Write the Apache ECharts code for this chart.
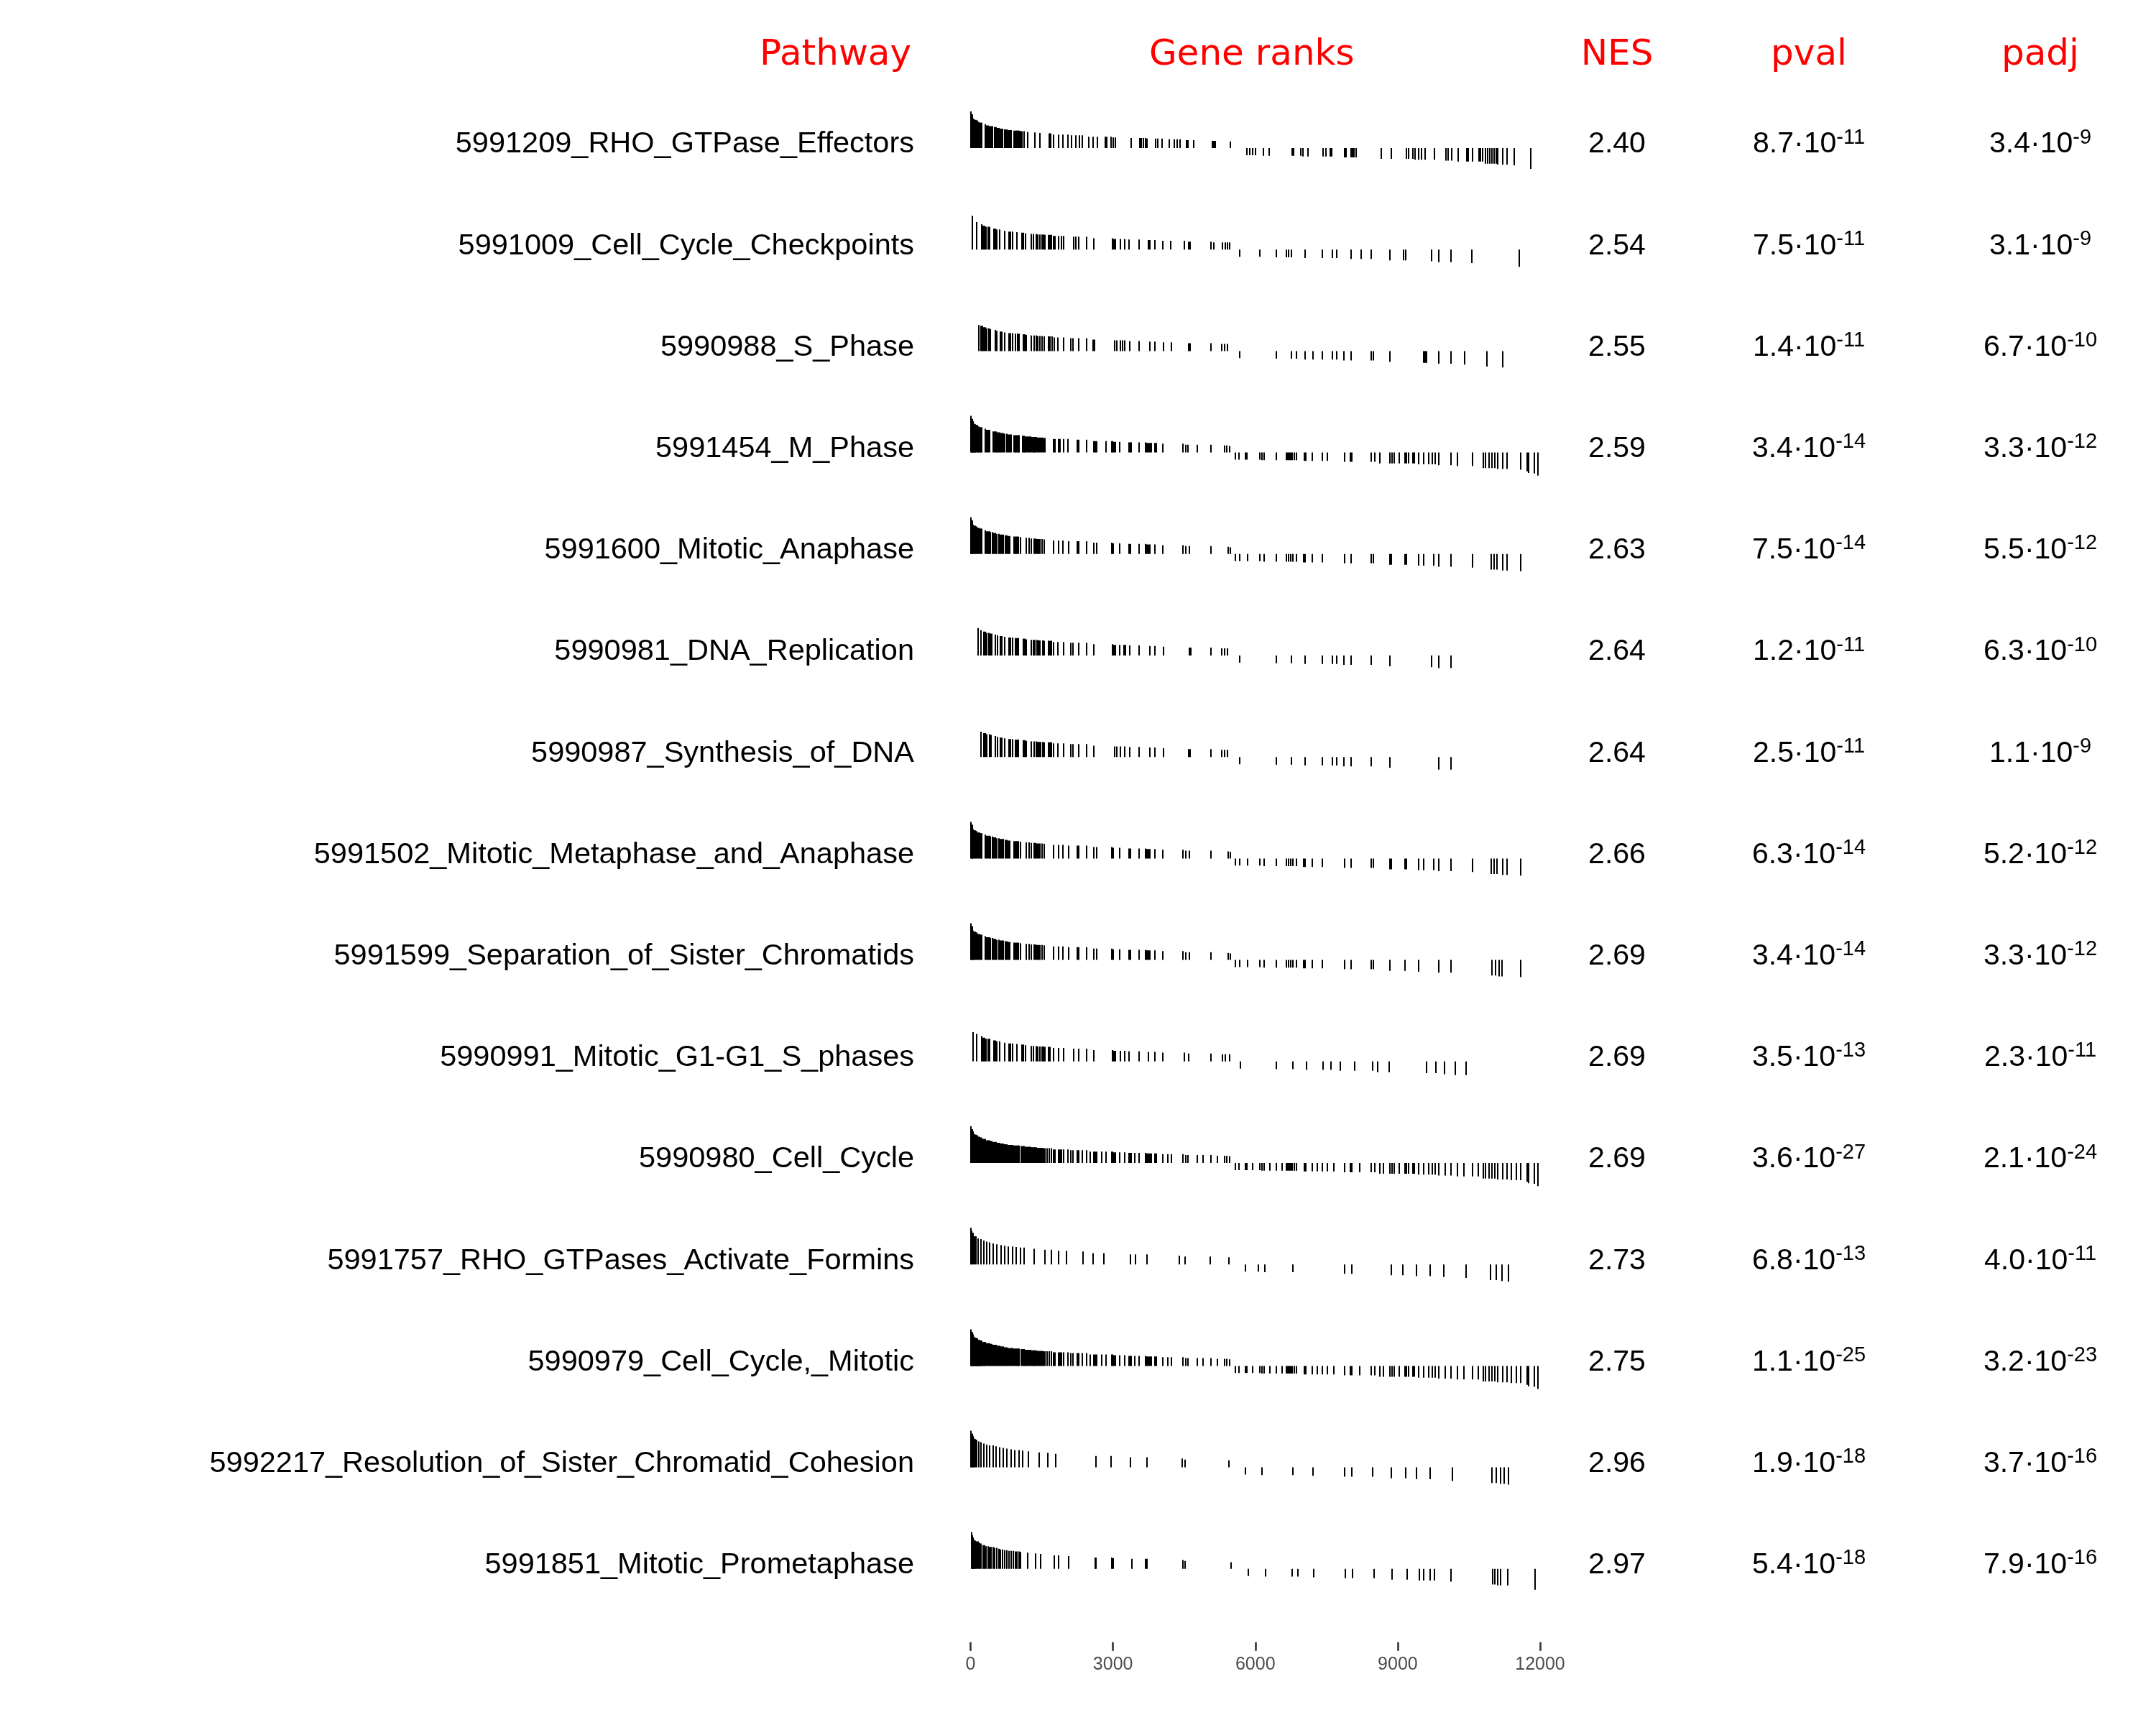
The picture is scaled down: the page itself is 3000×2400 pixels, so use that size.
<!DOCTYPE html>
<html><head><meta charset="utf-8">
<script src="https://cdn.jsdelivr.net/npm/echarts@6/dist/echarts.min.js"></script>
<style>html,body{margin:0;padding:0;background:#fff}#c{width:3000px;height:2400px}</style>
</head><body><div id="c"></div>
<script>
// ---------------- DATA ----------------
const pathways = [
  "5991209_RHO_GTPase_Effectors",
  "5991009_Cell_Cycle_Checkpoints",
  "5990988_S_Phase",
  "5991454_M_Phase",
  "5991600_Mitotic_Anaphase",
  "5990981_DNA_Replication",
  "5990987_Synthesis_of_DNA",
  "5991502_Mitotic_Metaphase_and_Anaphase",
  "5991599_Separation_of_Sister_Chromatids",
  "5990991_Mitotic_G1-G1_S_phases",
  "5990980_Cell_Cycle",
  "5991757_RHO_GTPases_Activate_Formins",
  "5990979_Cell_Cycle,_Mitotic",
  "5992217_Resolution_of_Sister_Chromatid_Cohesion",
  "5991851_Mitotic_Prometaphase"
];
const nes = ["2.40","2.54","2.55","2.59","2.63","2.64","2.64","2.66","2.69","2.69","2.69","2.73","2.75","2.96","2.97"];
const pvalMant = ["8.7","7.5","1.4","3.4","7.5","1.2","2.5","6.3","3.4","3.5","3.6","6.8","1.1","1.9","5.4"];
const pvalExp  = [-11,-11,-11,-14,-14,-11,-11,-14,-14,-13,-27,-13,-25,-18,-18];
const padjMant = ["3.4","3.1","6.7","3.3","5.5","6.3","1.1","5.2","3.3","2.3","2.1","4.0","3.2","3.7","7.9"];
const padjExp  = [-9,-9,-10,-12,-12,-10,-9,-12,-12,-11,-24,-11,-23,-16,-16];
const headers = ["Pathway","Gene ranks","NES","pval","padj"];
const rankTicks = [0,3000,6000,9000,12000];

// ranked gene statistic (scaled to max |stat| = 1)
const statRank  = [0,20,40,60,80,120,160,200,260,320,400,475,550,630,710,790,900,1030,1150,1270,1400,1540,1740,2060,2450,3000,3330,3720,4040,4510,5070,5460,5530,6100,6970,7760,8550,9350,9820,10140,10810,11090,11330,11600,11740,11800,11900,11960];
const statValue = [1.00,0.92,0.86,0.80,0.77,0.75,0.71,0.69,0.65,0.62,0.60,0.575,0.55,0.53,0.51,0.49,0.475,0.46,0.44,0.425,0.41,0.40,0.37,0.35,0.31,0.29,0.275,0.26,0.24,0.215,0.195,0.18,-0.195,-0.21,-0.23,-0.255,-0.295,-0.32,-0.345,-0.37,-0.425,-0.45,-0.47,-0.515,-0.555,-0.57,-0.63,-0.70];

// gene ranks of each pathway's genes
const ranks_RHO_GTPase_Effectors = [15,25,35,45,60,75,90,110,130,150,175,200,220,237,316,340,370,400,430,459,506,538,570,600,633,649,680,712,728,760,791,807,840,855,918,950,966,982,1010,1029,1045,1080,1124,1203,1362,1465,1655,1694,1742,1853,1940,2059,2122,2217,2296,2360,2486,2581,2676,2835,2874,2962,3009,3049,3389,3563,3595,3643,3680,3720,3896,3944,4039,4181,4292,4355,4419,4546,4585,4696,5092,5124,5163,5472,5821,5876,5939,6003,6177,6296,6771,6811,6953,7009,7112,7428,7484,7571,7603,7880,7919,8014,8046,8078,8117,8648,8870,9187,9234,9313,9369,9440,9503,9583,9781,10018,10058,10137,10280,10454,10493,10573,10707,10747,10786,10850,10897,10945,10992,11024,11072,11103,11206,11309,11460,11800];
const ranks_Cell_Cycle_Checkpoints = [39,134,229,269,300,332,364,395,490,522,554,617,712,807,839,886,982,1077,1108,1156,1283,1330,1378,1409,1457,1504,1536,1568,1647,1679,1710,1742,1774,1853,1916,1964,2170,2217,2280,2439,2597,2993,3025,3057,3152,3247,3342,3548,3754,3785,3880,4054,4213,4498,4593,4633,5068,5132,5306,5369,5409,5456,5670,6098,6446,6652,6700,6763,7056,7413,7619,7714,8014,8236,8442,8838,9124,9163,9710,9868,10122,10557,11563];
const ranks_S_Phase = [174,221,253,285,316,348,380,419,522,554,633,665,712,807,839,886,950,997,1029,1108,1140,1172,1283,1346,1378,1409,1457,1504,1552,1647,1679,1726,1758,1837,1964,2106,2154,2280,2439,2581,2613,3041,3088,3152,3199,3247,3358,3548,3785,3880,4062,4236,4593,4633,5068,5290,5353,5417,5670,6446,6763,6874,7056,7222,7413,7619,7714,7872,8014,8442,8490,8838,9551,9583,9614,9868,10122,10406,10874,11214];
const ranks_M_Phase = [15,25,35,45,55,70,85,100,120,140,160,180,200,220,237,316,340,365,395,475,500,530,554,585,610,633,665,690,712,760,790,820,855,918,940,965,990,1010,1029,1092,1124,1150,1175,1203,1235,1260,1290,1320,1346,1362,1390,1420,1450,1480,1510,1540,1568,1742,1774,1853,1885,1964,2059,2249,2280,2439,2597,2629,2660,2851,2969,2993,3025,3057,3136,3342,3374,3389,3548,3682,3722,3754,3785,3801,3880,3912,4054,4482,4530,4577,4783,5068,5353,5401,5464,5583,5654,5797,5829,6098,6145,6193,6446,6652,6684,6716,6747,6779,6827,6874,7033,7064,7207,7405,7523,7880,7999,8038,8442,8522,8616,8838,8886,8933,9028,9155,9187,9234,9313,9345,9440,9551,9646,9725,9789,9868,10122,10264,10581,10810,10850,10929,10992,11040,11103,11214,11309,11594,11721,11753,11879,11958];
const ranks_Mitotic_Anaphase = [15,25,35,45,60,80,100,130,160,190,220,237,316,340,365,395,420,459,490,520,554,593,633,665,690,728,760,791,823,918,950,980,1010,1045,1172,1235,1283,1346,1370,1400,1425,1457,1504,1552,1742,1853,1948,2067,2249,2280,2439,2597,2660,2969,3009,3136,3342,3374,3548,3682,3722,3754,3785,3880,4054,4482,4530,4609,5068,5433,5480,5583,5670,5837,6098,6193,6446,6652,6700,6747,6795,6874,7017,7049,7207,7413,7880,8022,8442,8490,8838,8870,9155,9187,9440,9543,9757,9868,10122,10581,10976,11024,11087,11214,11309,11586];
const ranks_DNA_Replication = [158,221,285,316,348,380,411,443,522,570,633,665,712,807,839,886,950,982,1013,1108,1140,1172,1283,1330,1362,1394,1425,1457,1520,1552,1647,1679,1710,1742,1837,1964,2106,2154,2280,2439,2597,2993,3025,3057,3136,3231,3263,3358,3548,3785,3880,4062,4609,4641,5068,5290,5353,5417,5670,6446,6763,7056,7413,7619,7714,7872,8014,8442,8838,9710,9868,10122];
const ranks_Synthesis_of_DNA = [221,285,316,348,395,427,522,570,633,665,712,807,839,886,950,982,1013,1108,1140,1172,1283,1346,1378,1409,1441,1473,1520,1552,1647,1679,1710,1742,1837,1964,2106,2154,2280,2439,2597,3041,3088,3152,3247,3358,3548,3785,3880,4062,4593,4633,5068,5290,5353,5417,5670,6446,6763,7056,7413,7619,7714,7872,8014,8442,8838,9868,10122];
const ranks_Mitotic_Metaphase_and_Anaphase = [15,25,35,45,60,80,100,130,160,190,220,237,316,340,365,395,420,459,490,520,554,593,633,665,690,728,760,791,823,918,950,980,1010,1045,1172,1235,1283,1346,1370,1400,1425,1457,1504,1552,1742,1853,1948,2067,2249,2280,2439,2597,2660,2969,3009,3136,3342,3374,3548,3682,3722,3754,3785,3880,4054,4482,4530,4609,5068,5433,5480,5583,5670,5837,6098,6193,6446,6652,6700,6747,6795,6874,7017,7049,7207,7413,7880,8022,8442,8490,8838,8870,9155,9187,9440,9543,9757,9868,10122,10581,10976,11024,11087,11214,11309,11586];
const ranks_Separation_of_Sister_Chromatids = [15,25,35,45,60,80,100,130,160,190,220,237,316,340,365,395,420,459,490,520,554,593,633,665,690,728,760,791,823,918,950,980,1010,1045,1172,1235,1283,1346,1370,1400,1425,1457,1504,1552,1742,1853,1948,2067,2249,2280,2439,2597,2660,2969,3009,3136,3342,3374,3548,3682,3722,3754,3785,3880,4054,4482,4530,4609,5068,5433,5480,5583,5670,5837,6098,6193,6446,6652,6700,6747,6795,6874,7017,7049,7207,7413,7880,8022,8442,8490,8838,9155,9440,9868,10122,10990,11060,11130,11200,11586];
const ranks_Mitotic_G1_G1_S_phases = [60,134,229,269,300,332,364,395,490,522,554,617,712,807,839,886,982,1077,1108,1156,1283,1330,1378,1409,1457,1504,1536,1568,1647,1679,1742,1853,1964,2170,2280,2439,2597,2993,3025,3057,3152,3247,3342,3548,3754,3880,4054,4498,4593,5068,5306,5369,5456,5682,6436,6784,7074,7421,7595,7798,8088,8465,8581,8813,9600,9800,9990,10210,10440];
const ranks_Cell_Cycle = [15,20,25,30,35,40,45,50,55,60,70,80,90,100,110,120,130,140,150,160,170,180,190,200,210,220,237,260,280,300,316,340,365,395,420,440,475,500,530,554,585,610,633,665,690,712,740,760,790,820,855,880,918,940,965,990,1010,1029,1060,1092,1124,1150,1175,1203,1235,1260,1290,1320,1346,1362,1390,1420,1450,1480,1510,1540,1568,1610,1660,1700,1742,1774,1853,1885,1920,1964,2059,2106,2154,2249,2280,2360,2439,2520,2597,2629,2660,2760,2851,2969,2993,3025,3057,3136,3247,3342,3374,3389,3460,3548,3682,3722,3754,3785,3801,3880,3912,4054,4150,4236,4482,4530,4577,4783,4900,5068,5200,5353,5401,5464,5583,5654,5797,5829,5950,6098,6145,6193,6300,6446,6560,6652,6684,6716,6747,6779,6827,6874,7033,7064,7207,7300,7405,7523,7650,7880,7999,8038,8200,8442,8522,8616,8700,8838,8886,8933,9028,9155,9187,9234,9313,9345,9440,9551,9646,9725,9789,9868,10000,10122,10264,10400,10581,10700,10810,10850,10929,10992,11040,11103,11214,11309,11400,11500,11594,11721,11753,11879,11958];
const ranks_RHO_GTPases_Activate_Formins = [15,30,50,80,110,160,220,280,340,400,480,560,640,720,800,880,960,1050,1130,1334,1565,1710,1855,2029,2377,2580,2812,3363,3479,3711,4406,4522,5044,5450,5798,6059,6204,6784,7885,8030,8871,9103,9393,9683,9973,10436,10958,11074,11190,11335];
const ranks_Cell_Cycle_Mitotic = [15,20,25,30,35,40,45,50,55,60,70,80,90,100,110,120,130,140,150,160,170,180,190,200,210,220,237,260,280,300,316,340,365,395,420,440,475,500,530,554,585,610,633,665,690,712,740,760,790,820,855,880,918,940,965,990,1010,1029,1060,1092,1124,1150,1175,1203,1235,1260,1290,1320,1346,1362,1390,1420,1450,1480,1510,1540,1568,1610,1660,1700,1742,1774,1853,1885,1920,1964,2059,2106,2154,2249,2280,2360,2439,2520,2597,2629,2660,2760,2851,2969,2993,3025,3057,3136,3247,3342,3374,3389,3460,3548,3682,3722,3754,3785,3801,3880,3912,4054,4150,4236,4482,4530,4577,4783,4900,5068,5200,5353,5401,5464,5583,5654,5797,5829,5950,6098,6145,6193,6300,6446,6560,6652,6684,6716,6747,6779,6827,6874,7033,7064,7207,7300,7405,7523,7650,7880,7999,8038,8200,8442,8522,8616,8700,8838,8886,8933,9028,9155,9187,9234,9313,9345,9440,9551,9646,9725,9789,9868,10000,10122,10264,10400,10581,10700,10810,10850,10929,10992,11040,11103,11214,11309,11400,11500,11594,11721,11753,11879,11958];
const ranks_Resolution_of_Sister_Chromatid_Cohesion = [15,25,35,50,70,95,130,170,220,280,340,400,470,540,610,690,770,850,930,1020,1100,1218,1450,1623,1797,2638,2957,3363,3711,4465,4522,5450,5798,6146,6784,7219,7885,8030,8465,8871,9161,9393,9683,10147,10988,11074,11161,11248,11335];
const ranks_Mitotic_Prometaphase = [17,35,52,70,87,104,130,157,191,226,261,296,331,365,400,435,470,505,548,592,635,679,722,766,809,853,896,948,983,1027,1053,1201,1375,1479,1758,1862,2062,2628,2645,2976,3011,3394,3690,3716,4481,4516,5482,5848,6213,6770,6892,7223,7893,8049,8502,8876,9198,9459,9546,9677,9781,10129,10999,11051,11103,11173,11312,11887];

const pathwayRanks = [
  ranks_RHO_GTPase_Effectors, ranks_Cell_Cycle_Checkpoints, ranks_S_Phase, ranks_M_Phase,
  ranks_Mitotic_Anaphase, ranks_DNA_Replication, ranks_Synthesis_of_DNA, ranks_Mitotic_Metaphase_and_Anaphase,
  ranks_Separation_of_Sister_Chromatids, ranks_Mitotic_G1_G1_S_phases, ranks_Cell_Cycle,
  ranks_RHO_GTPases_Activate_Formins, ranks_Cell_Cycle_Mitotic, ranks_Resolution_of_Sister_Chromatid_Cohesion,
  ranks_Mitotic_Prometaphase
];

// ---------------- LAYOUT ----------------
const N = pathways.length;
const pitch = 141.2;
const firstBaseline = 206;
const textLift = 5;
const barLeft = 1350.5, barWidth = 792.5;
const halfRow = 60, pxPerUnit = 51;
const tableTop = firstBaseline - textLift - pitch / 2;
const tableHeight = pitch * N;

function statAt(r) {
  let v = statValue[0];
  for (let k = 0; k < statRank.length; k++) { if (statRank[k] <= r) v = statValue[k]; else break; }
  return v;
}

const grid = [], xAxis = [], yAxis = [], series = [];
for (let i = 0; i < N; i++) {
  const base = firstBaseline + pitch * i;
  grid.push({ left: barLeft, width: barWidth, top: base - halfRow, height: 2 * halfRow });
  const last = i === N - 1;
  xAxis.push({
    gridIndex: i, type: 'value', min: 0, max: 12000, interval: 3000,
    show: last, offset: 42, position: 'bottom',
    axisLine: { show: true, onZero: false, lineStyle: { color: 'rgba(0,0,0,0)' } },
    splitLine: { show: false },
    axisTick: { show: last, length: 12, lineStyle: { color: '#333333', width: 2.6 } },
    axisLabel: { show: last, margin: 19, color: '#4D4D4D', fontSize: 25, fontFamily: 'Liberation Sans',
      formatter: v => rankTicks.includes(v) ? String(v) : '' }
  });
  yAxis.push({ gridIndex: i, type: 'value', min: -halfRow / pxPerUnit, max: halfRow / pxPerUnit, show: false });
  series.push({
    type: 'custom', xAxisIndex: i, yAxisIndex: i, silent: true, animation: false,
    data: pathwayRanks[i].map(r => [r, statAt(r)]),
    renderItem: (params, api) => {
      const p0 = api.coord([api.value(0), 0]);
      const p1 = api.coord([api.value(0), api.value(1)]);
      const x = Math.round(p0[0]);
      return { type: 'line', shape: { x1: x, y1: p0[1], x2: x, y2: p1[1] },
        style: { stroke: '#000', lineWidth: 2 } };
    }
  });
}

// pathway names
const gNames = grid.length;
grid.push({ left: 20, width: 1252, top: tableTop, height: tableHeight });
xAxis.push({ gridIndex: gNames, type: 'value', show: false, min: 0, max: 1 });
yAxis.push({ gridIndex: gNames, type: 'category', inverse: true, data: pathways, position: 'right',
  axisLine: { show: false }, axisTick: { show: false },
  axisLabel: { inside: true, margin: 0, align: 'right', color: '#000', fontSize: 41.5, fontFamily: 'Liberation Sans' } });

// stat columns
const colCenters = [2250, 2517, 2839];
const colTexts = [
  nes.map(v => '{b|' + v + '}'),
  pvalMant.map((m, k) => '{b|' + m + '\u00b710}{s|' + pvalExp[k] + '}'),
  padjMant.map((m, k) => '{b|' + m + '\u00b710}{s|' + padjExp[k] + '}')
];
colCenters.forEach((cx, c) => {
  const gi = grid.length;
  grid.push({ left: cx - 100, width: 200, top: tableTop, height: tableHeight });
  xAxis.push({ gridIndex: gi, type: 'category', data: [headers[c + 2]], show: false });
  yAxis.push({ gridIndex: gi, type: 'category', inverse: true, data: pathways, show: false });
  series.push({
    type: 'custom', xAxisIndex: gi, yAxisIndex: gi, silent: true, animation: false,
    data: colTexts[c].map((t, k) => [0, k, t]),
    renderItem: (params, api) => {
      const p = api.coord([api.value(0), api.value(1)]);
      return { type: 'text', x: p[0], y: p[1], style: {
        text: colTexts[c][params.dataIndex], align: 'center', verticalAlign: 'middle',
        rich: {
          b: { fontSize: 41, fontFamily: 'Liberation Sans', fill: '#000', lineHeight: 48, verticalAlign: 'middle' },
          s: { fontSize: 29, fontFamily: 'Liberation Sans', fill: '#000', lineHeight: 30, verticalAlign: 'top' }
        } } };
    }
  });
});

const headerStyle = { fill: '#FF0000', font: '50px "DejaVu Sans"', verticalAlign: 'middle' };
const headerY = 77;
const chart = echarts.init(document.getElementById('c'), null, { renderer: 'canvas' });
chart.setOption({
  backgroundColor: '#ffffff',
  animation: false,
  grid, xAxis, yAxis, series,
  graphic: [
    { type: 'text', x: 1268, y: headerY, style: Object.assign({ text: headers[0], align: 'right' }, headerStyle) },
    { type: 'text', x: barLeft + barWidth / 2 - 5, y: headerY, style: Object.assign({ text: headers[1], align: 'center' }, headerStyle) },
    { type: 'text', x: colCenters[0], y: headerY, style: Object.assign({ text: headers[2], align: 'center' }, headerStyle) },
    { type: 'text', x: colCenters[1], y: headerY, style: Object.assign({ text: headers[3], align: 'center' }, headerStyle) },
    { type: 'text', x: colCenters[2], y: headerY, style: Object.assign({ text: headers[4], align: 'center' }, headerStyle) }
  ]
});
</script></body></html>
